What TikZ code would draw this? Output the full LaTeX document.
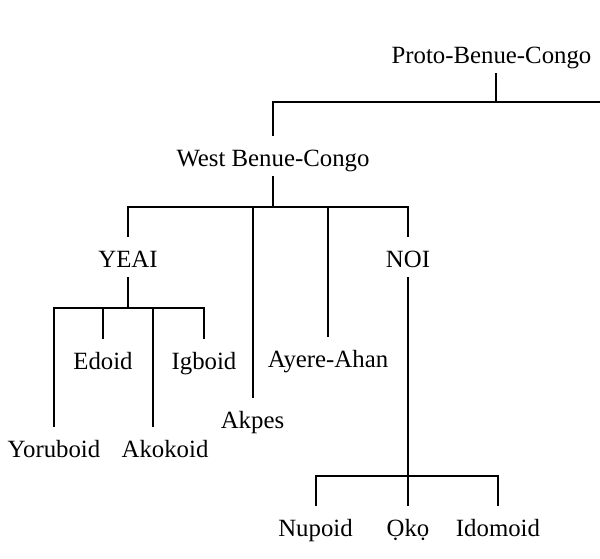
\documentclass[tikz,border=0pt]{standalone}
\usepackage{fontspec}
\setmainfont{Liberation Serif}
\usetikzlibrary{positioning}

\begin{document}
\begin{tikzpicture}[x=0.5pt,y=-0.5pt,
  lang/.style={font=\fontsize{12.4}{14}\selectfont,anchor=base,inner sep=2pt,
               text height=13pt,text depth=3pt},
  branch/.style={line width=1pt,black}]

\useasboundingbox[fill=white] (0,0) rectangle (600,558);

%% Top levels
\node[lang] (pbc) at (491.5,63) {Proto-Benue-Congo};
\node[lang] (wbc) at (273,166)  {West Benue-Congo};

\coordinate (jp) at (496,102);
\coordinate (pR) at (600,102);
\coordinate (jw) at (273,207);

\draw[branch] (pbc.south -| jp) -- (jp);
\draw[branch] (pR) -- (jp) -| (wbc.north);
\draw[branch] (wbc.south) -- (jw);

%% West Benue-Congo branches
\node[lang] (yeai)  at (128,267)   {YEAI};
\node[lang] (noi)   at (408,267)   {NOI};
\node[lang] (ayere) at (328,367)   {Ayere-Ahan};
\node[lang] (akpes) at (252.5,428) {Akpes};

\draw[branch] (yeai.north) |- (jw) -| (noi.north);
\draw[branch] (akpes.north) -- (akpes.north |- jw);
\draw[branch] (ayere.north) -- (ayere.north |- jw);

%% YEAI
\node[lang] (edo) at (103,369) {Edoid};
\node[lang] (igb) at (204,369) {Igboid};
\node[lang] (yor) at (54,457)  {Yoruboid};
\node[lang] (ako) at (165,457) {Akokoid};

\coordinate (jy)  at (128,308);
\coordinate (akL) at (153,308);

\draw[branch] (yeai.south) -- (jy);
\draw[branch] (yor.north) |- (jy) -| (igb.north);
\draw[branch] (edo.north) -- (edo.north |- jy);
\draw[branch] (akL) -- (akL |- ako.north);

%% NOI
\node[lang] (nup) at (315.5,536) {Nupoid};
\node[lang] (oko) at (408,536)   {Ọkọ};
\node[lang] (ido) at (498,536)   {Idomoid};

\coordinate (jn) at (408,476);

\draw[branch] (noi.south) -- (oko.north);
\draw[branch] (nup.north) |- (jn) -| (ido.north);
\end{tikzpicture}
\end{document}
